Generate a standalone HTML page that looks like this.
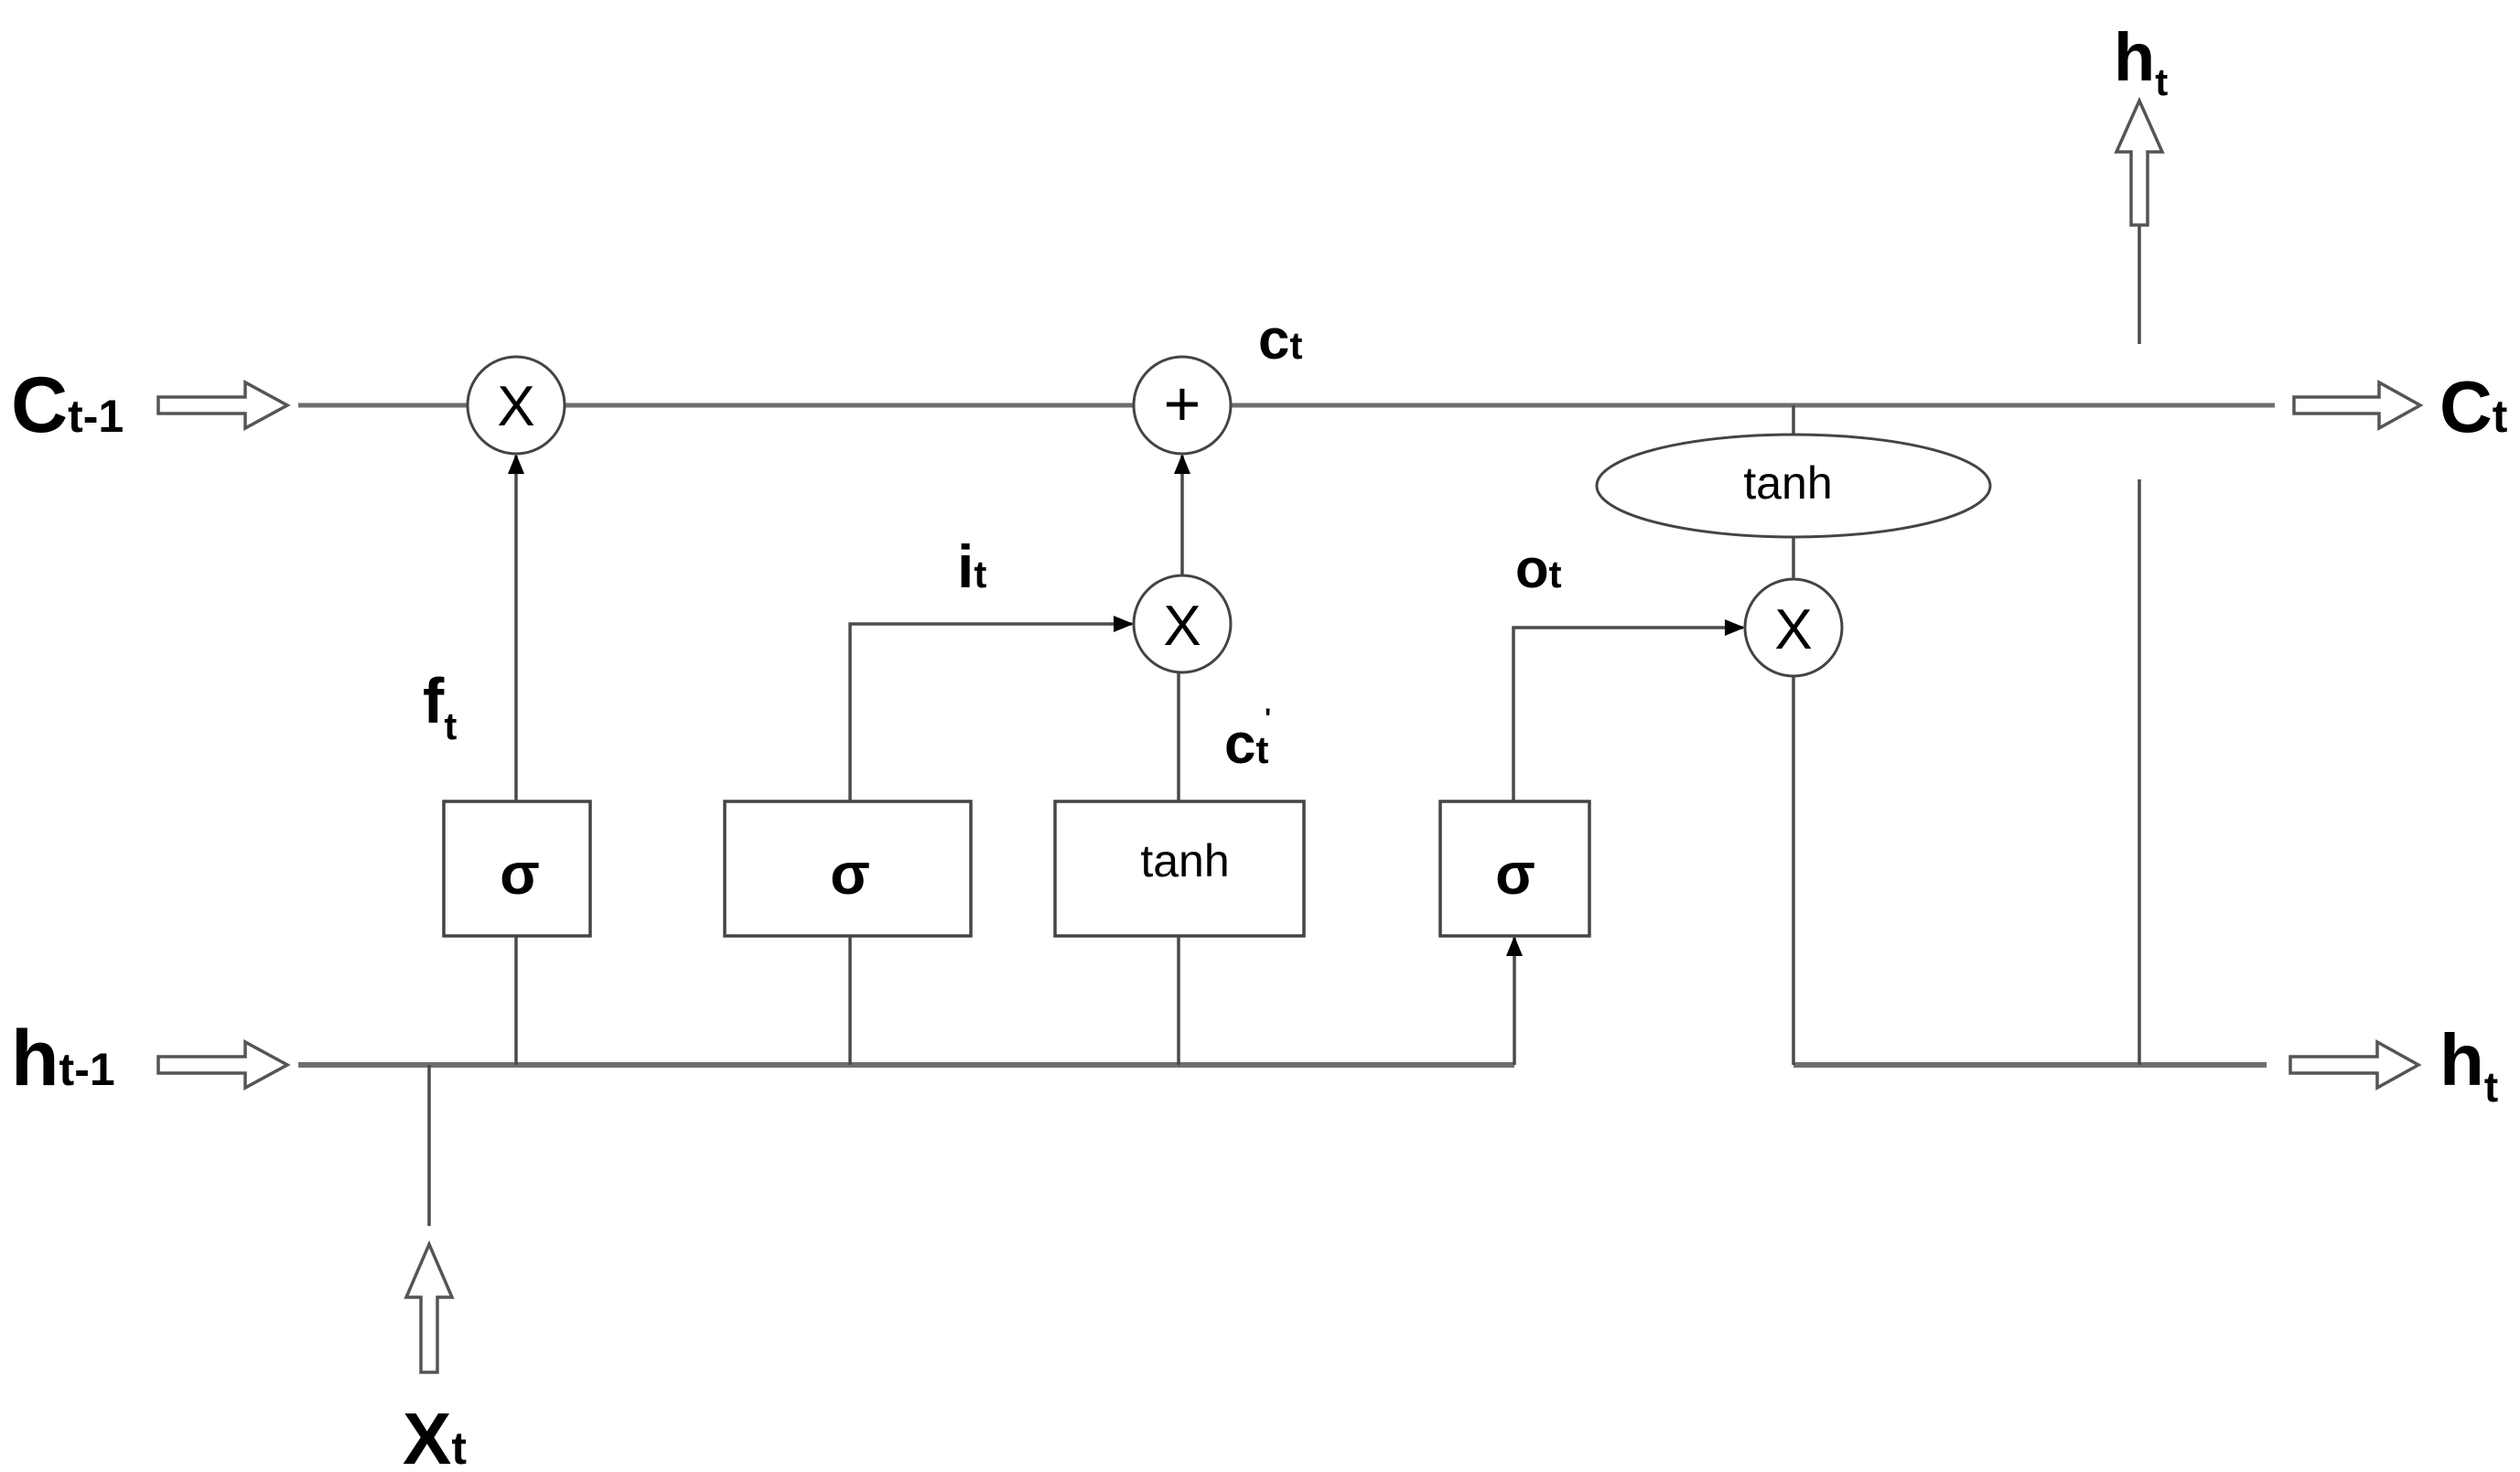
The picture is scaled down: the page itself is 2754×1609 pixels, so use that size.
<!DOCTYPE html>
<html><head><meta charset="utf-8"><style>
html,body{margin:0;padding:0;background:#fff;}
svg{display:block}
text{font-family:"Liberation Sans",Arial,sans-serif;fill:#000}
.b{font-weight:bold}
</style></head><body>
<svg width="2754" height="1609" viewBox="0 0 2754 1609" xmlns="http://www.w3.org/2000/svg">
<defs>
<marker id="ah" markerWidth="22" markerHeight="18" refX="20" refY="9" orient="auto" markerUnits="userSpaceOnUse" viewBox="0 0 22 18">
<path d="M0,0 L22,9 L0,18 z" fill="#000"/>
</marker>
</defs>
<g stroke="#6e6e6e" stroke-width="5" fill="none">
<line x1="326" y1="443" x2="511" y2="443"/>
<line x1="617" y1="443" x2="1239" y2="443"/>
<line x1="1345" y1="443" x2="2486" y2="443"/>
<line x1="326" y1="1164" x2="1655" y2="1164" stroke-width="6"/>
<line x1="1960" y1="1164" x2="2477" y2="1164" stroke-width="6"/>
</g>
<g stroke="#4a4a4a" stroke-width="3.5" fill="none">
<line x1="564" y1="876" x2="564" y2="498" marker-end="url(#ah)"/>
<line x1="564" y1="1023" x2="564" y2="1164"/>
<polyline points="929,876 929,682 1237,682" marker-end="url(#ah)"/>
<line x1="929" y1="1023" x2="929" y2="1164"/>
<line x1="1288" y1="876" x2="1288" y2="735"/>
<line x1="1288" y1="1023" x2="1288" y2="1164"/>
<line x1="1292" y1="629" x2="1292" y2="498" marker-end="url(#ah)"/>
<polyline points="1654,876 1654,686 1905,686" marker-end="url(#ah)"/>
<line x1="1655" y1="1164" x2="1655" y2="1025" marker-end="url(#ah)"/>
<line x1="1960" y1="443" x2="1960" y2="475"/>
<line x1="1960" y1="587" x2="1960" y2="633"/>
<line x1="1960" y1="739" x2="1960" y2="1164"/>
<line x1="2338" y1="1164" x2="2338" y2="524"/>
<line x1="2338" y1="376" x2="2338" y2="247"/>
<line x1="469" y1="1164" x2="469" y2="1340"/>
</g>
<g stroke="#444" stroke-width="3" fill="#fff">
<circle cx="564" cy="443" r="53"/>
<circle cx="1292" cy="443" r="53"/>
<circle cx="1292" cy="682" r="53"/>
<circle cx="1960" cy="686" r="53"/>
<ellipse cx="1960" cy="531" rx="215" ry="56"/>
</g>
<g stroke="#444" stroke-width="3.5" fill="#fff">
<rect x="485" y="876" width="160" height="147"/>
<rect x="792" y="876" width="269" height="147"/>
<rect x="1153" y="876" width="272" height="147"/>
<rect x="1574" y="876" width="163" height="147"/>
</g>
<g stroke="#555" stroke-width="3.5" fill="#fff">
<path d="M173,434 L268,434 L268,418 L314,443 L268,468 L268,452 L173,452 Z"/>
<path d="M173,1155 L268,1155 L268,1139 L314,1164 L268,1189 L268,1173 L173,1173 Z"/>
<path d="M2507,434 L2600,434 L2600,418 L2645,443 L2600,468 L2600,452 L2507,452 Z"/>
<path d="M2503,1155 L2598,1155 L2598,1139 L2643,1164 L2598,1189 L2598,1173 L2503,1173 Z"/>
<path d="M460,1500 L460,1418 L444,1418 L469,1360 L494,1418 L478,1418 L478,1500 Z"/>
<path d="M2329,246 L2329,166 L2313,166 L2338,110 L2363,166 L2347,166 L2347,246 Z"/>
</g>
<g font-size="62" text-anchor="middle">
<text x="564" y="465">X</text>
<text x="1292" y="705">X</text>
<text x="1960" y="709">X</text>
<text x="1292" y="465" font-size="70">+</text>
</g>
<g font-size="64" text-anchor="middle">
<text x="568" y="977" class="b">σ</text>
<text x="929" y="977" class="b">σ</text>
<text x="1656" y="977" class="b">σ</text>
</g>
<text x="1295" y="958" font-size="50" text-anchor="middle">tanh</text>
<text x="1954" y="545" font-size="50" text-anchor="middle">tanh</text>
<g class="b">
<text x="12" y="472" font-size="86" class="b">C<tspan font-size="50">t-1</tspan></text>
<text x="12" y="1186" font-size="86" class="b">h<tspan font-size="50">t-1</tspan></text>
<text x="2666" y="472" font-size="80" class="b">C<tspan font-size="50">t</tspan></text>
<text x="2666" y="1186" font-size="80" class="b">h<tspan font-size="46" dy="18">t</tspan></text>
<text x="2310" y="88" font-size="74" class="b">h<tspan font-size="42" dy="16">t</tspan></text>
<text x="440" y="1600" font-size="80" class="b">X<tspan font-size="50">t</tspan></text>
<text x="1375" y="392" font-size="62" class="b">c<tspan font-size="42">t</tspan></text>
<text x="1046" y="642" font-size="66" class="b">i<tspan font-size="42">t</tspan></text>
<text x="1656" y="642" font-size="60" class="b">o<tspan font-size="42">t</tspan></text>
<text x="462" y="790" font-size="70" class="b">f<tspan font-size="42" dy="18">t</tspan></text>
<text x="1338" y="834" font-size="62" class="b">c<tspan font-size="42">t</tspan></text>
<text x="1382" y="795" font-size="30">'</text>
</g>
</svg>
</body></html>
